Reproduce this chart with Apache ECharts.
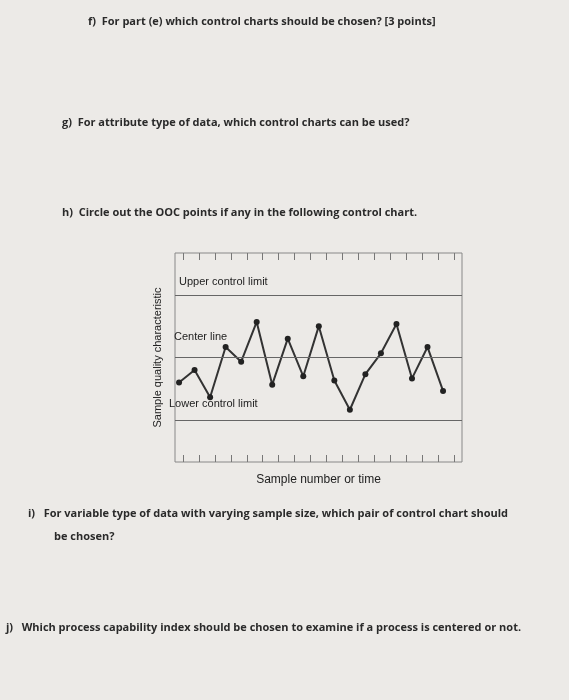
<!DOCTYPE html>
<html><head><meta charset="utf-8">
<script src="https://cdn.jsdelivr.net/npm/echarts@6/dist/echarts.min.js"></script>
<style>html,body{margin:0;padding:0;background:#eceae7}#c{width:569px;height:700px}</style>
</head><body><div id="c"></div>
<script>
const samples = ['1','2','3','4','5','6','7','8','9','10','11','12','13','14','15','16','17','18'];
const values = [8.8,9.4,8.1,10.5,9.8,11.7,8.7,10.9,9.1,11.5,8.9,7.5,9.2,10.2,11.6,9.0,10.5,8.4];
const limits = {ucl:13, cl:10, lcl:7};
const questions = [
 ['f)  For part (e) which control charts should be chosen? [3 points]', 88, 16],
 ['g)  For attribute type of data, which control charts can be used?', 62, 117],
 ['h)  Circle out the OOC points if any in the following control chart.', 62, 207],
 ['i)   For variable type of data with varying sample size, which pair of control chart should', 28, 508],
 ['be chosen?', 54, 531],
 ['j)   Which process capability index should be chosen to examine if a process is centered or not.', 6, 622]
];
const chart = echarts.init(document.getElementById('c'));
const ax = {type:'category', data:samples, boundaryGap:true,
  axisLine:{show:false}, axisTick:{show:true, inside:true, length:7, interval:0, alignWithLabel:true, lineStyle:{color:'#777'}},
  axisLabel:{show:false, interval:0}, splitLine:{show:false}};
chart.setOption({
  backgroundColor:'#eceae7',
  animation:false,
  grid:{left:175, top:253, right:107, bottom:238, show:true, borderColor:'#888', borderWidth:1},
  xAxis:[Object.assign({position:'bottom', name:'Sample number or time', nameLocation:'middle', nameGap:12,
          nameTextStyle:{fontFamily:'Liberation Sans', fontSize:12, color:'#222'}}, ax),
         Object.assign({position:'top'}, ax),
         {type:'value', min:0.74, max:19.22, show:false}],
  yAxis:{type:'value', min:5, max:15, axisLine:{show:false}, axisTick:{show:false}, axisLabel:{show:false}, splitLine:{show:false},
    name:'Sample quality characteristic', nameLocation:'middle', nameGap:12, nameRotate:90,
    nameTextStyle:{fontFamily:'Liberation Sans', fontSize:11, color:'#222'}},
  series:[{type:'line', xAxisIndex:2, data:values.map((v,i)=>[i+1,v]), symbol:'circle', symbolSize:6,
    lineStyle:{color:'#333', width:2}, itemStyle:{color:'#222'},
    markLine:{silent:true, symbol:'none', label:{show:false}, lineStyle:{color:'#666', type:'solid', width:1},
      data:[{yAxis:limits.ucl},{yAxis:limits.cl},{yAxis:limits.lcl}]}}],
  graphic:[
    ...questions.map(q=>({type:'text', left:q[1], top:q[2], style:{text:q[0], fontFamily:'Open Sans', fontSize:11, fontWeight:'bold', fill:'#2a2a2a'}})),
    {type:'text', left:179, top:276, style:{text:'Upper control limit', fontFamily:'Liberation Sans', fontSize:11, fill:'#222'}},
    {type:'text', left:174, top:331, style:{text:'Center line', fontFamily:'Liberation Sans', fontSize:11, fill:'#222'}},
    {type:'text', left:169, top:398, style:{text:'Lower control limit', fontFamily:'Liberation Sans', fontSize:11, fill:'#222'}}
  ]
});
</script></body></html>
